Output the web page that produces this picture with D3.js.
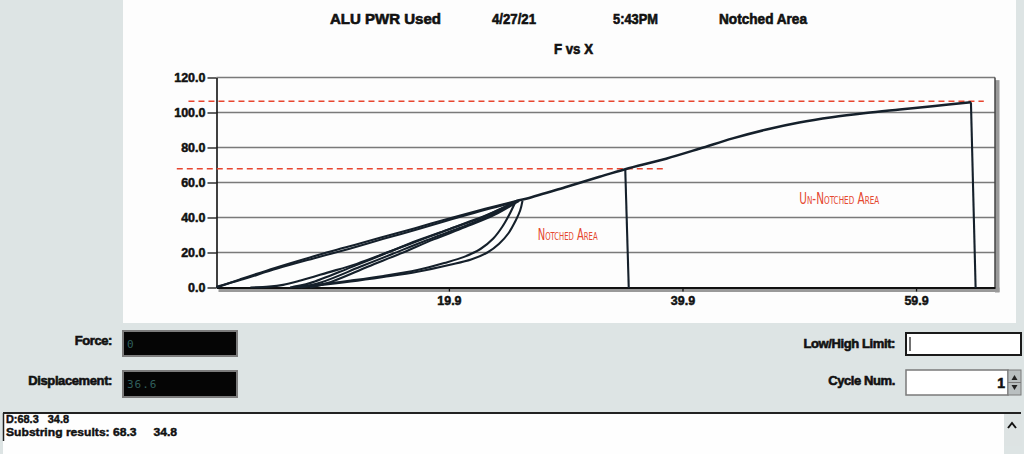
<!DOCTYPE html>
<html><head><meta charset="utf-8">
<script src="https://cdn.jsdelivr.net/npm/d3@7"></script>
<style>html,body{margin:0;padding:0;background:#fff;} svg{display:block}</style>
</head><body><svg id="c" width="1024" height="454"></svg>
<script>
// ---------------- DATA ----------------
const headerTexts = ["ALU PWR Used", "4/27/21", "5:43PM", "Notched Area"];
const chartTitle = "F vs X";
const yTicks = [0, 20, 40, 60, 80, 100, 120];
const xTicks = [19.9, 39.9, 59.9];
const xDomain = [0, 66.66];
const yDomain = [0, 120];

// first loading line (doubled)
const loadUpA = [[0,0],[2,4.6],[5,11.2],[8,17.2],[11,22.8],[14,28.4],[17,33.9],[20,39.6],[23,45],[25.8,49.7]];
const loadUpB = [[0,0.4],[2.1,4.4],[5.2,10.8],[8.3,16.6],[11.4,22.2],[14.3,27.8],[17.3,33.4],[20.2,39.1],[23.1,44.6],[25.9,49.4]];
// unloading curves
const unloadA = [[26.2,49.5],[26.0,44],[25.6,38],[25.0,31],[24.2,25],[23.2,20],[21.8,16],[20,13],[17.2,9],[14.3,6],[11.5,3.4],[8.6,1.2],[7,0.2]];
const unloadB = [[25.6,49],[25.1,42],[24.5,35],[23.7,28],[22.6,22],[21.2,17.5],[19.5,14],[17.2,10],[14.3,6.6],[11.5,4],[8.6,1.6],[6.5,0.3]];
// reloading bundle
const reloadA = [[6.3,0],[8,2.5],[11.5,11.5],[14.3,19],[17.2,26.8],[20,33.5],[22.8,40.2],[25.8,49.7]];
const reloadB = [[7.2,0],[9,3],[12.3,11.8],[15,19],[18,27],[20.8,34],[23.4,41],[25.8,49.7]];
const reloadC = [[8,0],[9.8,3.2],[13,12],[15.8,19.5],[18.6,27.5],[21.3,34.5],[23.8,41.5],[25.9,49.5]];
const reloadD = [[2.9,0],[4.5,0.5],[5.7,1.5],[7.2,4],[9.5,8.5],[12,13.5],[15,21],[18,28.5],[21,36],[23.5,42.5],[25.8,49.7]];
// final loading to failure
const finalLoad = [[25.8,49.7],[26.6,50.9],[30,57.6],[32.8,63.3],[35,67.6],[38.5,73.6],[41.4,79.4],[44.2,85.2],[47.1,90.3],[49.9,94.3],[52.7,97.3],[55.6,99.7],[58.5,101.7],[61.3,103.6],[64.6,105.8]];
const finalDrop = [[64.6,105.8],[65.0,-0.3]];
const notchDrop = [[35.0,67.6],[35.3,-0.3]];

// limit lines (value, x-extent)
const limitValues = [106.4, 67.9];
const limitExtents = [[-2.4, 65.7], [-3.4, 38.5]];
const annotations = [["Notched Area", 27.5, 27], ["Un-Notched Area", 49.9, 47.5]];

const fieldLabels = ["Force:", "Displacement:"];
const fieldValues = ["0", "36.6"];
const rightLabels = ["Low/High Limit:", "Cycle Num."];
const cycleNum = "1";
const logLines = ["D:68.3   34.8", "Substring results: 68.3     34.8"];

// ---------------- DRAW ----------------
const svg = d3.select("#c");
const BOLD = "'Liberation Sans', Arial, sans-serif";

svg.append("rect").attr("width",1024).attr("height",454).attr("fill","#dde4e4");
svg.append("rect").attr("x",123).attr("y",0).attr("width",893).attr("height",323).attr("fill","#fdfdfd");

// header
const hx = [[330,111],[492,44],[613,45],[719,88]];
headerTexts.forEach((t,i)=>{
  svg.append("text").attr("x",hx[i][0]).attr("y",24).attr("textLength",hx[i][1]).attr("lengthAdjust","spacingAndGlyphs")
    .attr("font-family",BOLD).attr("font-weight","bold").attr("font-size",14).attr("fill","#111")
    .attr("stroke","#111").attr("stroke-width",0.6).text(t);
});
svg.append("text").attr("x",554).attr("y",54).attr("textLength",39).attr("lengthAdjust","spacingAndGlyphs")
  .attr("font-family",BOLD).attr("font-weight","bold").attr("font-size",14).attr("fill","#111")
  .attr("stroke","#111").attr("stroke-width",0.6).text(chartTitle);

const x = d3.scaleLinear().domain(xDomain).range([216.5, 995]);
const y = d3.scaleLinear().domain(yDomain).range([287.5, 77.5]);

// shadow
svg.append("rect").attr("x",x(xDomain[1])).attr("y",y(118.5)).attr("width",4.5).attr("height",y(0)-y(118.5)+5).attr("fill","#9a9a9a");
svg.append("rect").attr("x",x(0)+2).attr("y",y(0)).attr("width",x(xDomain[1])-x(0)+2.5).attr("height",4.5).attr("fill","#9a9a9a");

// grid
svg.append("g").selectAll("line").data(yTicks.filter(d=>d>0)).join("line")
  .attr("x1",x(0)).attr("x2",x(xDomain[1])).attr("y1",d=>y(d)).attr("y2",d=>y(d))
  .attr("stroke","#7a7a7a").attr("stroke-width",1.3);
svg.append("line").attr("x1",x(xDomain[1])).attr("x2",x(xDomain[1])).attr("y1",y(120)).attr("y2",y(0))
  .attr("stroke","#444").attr("stroke-width",1.5);

// axes
const yAxis = svg.append("g").attr("transform",`translate(${x(0)},0)`)
  .call(d3.axisLeft(y).tickValues(yTicks).tickFormat(d=>d.toFixed(1)).tickSize(9).tickSizeOuter(0).tickPadding(2));
yAxis.select(".domain").attr("stroke","#111").attr("stroke-width",1.6);
yAxis.selectAll(".tick line").attr("stroke","#111").attr("stroke-width",1.3);
yAxis.selectAll("text").attr("font-family",BOLD).attr("font-weight","bold").attr("font-size",12.5).attr("fill","#111")
  .attr("stroke","#111").attr("stroke-width",0.5);

const xAxis = svg.append("g").attr("transform",`translate(0,${y(0)})`)
  .call(d3.axisBottom(x).tickValues(xTicks).tickFormat(d3.format(".1f")).tickSize(4).tickSizeOuter(0).tickPadding(5));
xAxis.select(".domain").attr("stroke","#111").attr("stroke-width",2.2);
xAxis.selectAll(".tick line").attr("stroke","#111").attr("stroke-width",1.3);
xAxis.selectAll("text").attr("font-family",BOLD).attr("font-weight","bold").attr("font-size",12.5).attr("fill","#111")
  .attr("stroke","#111").attr("stroke-width",0.5);

// limit lines
limitValues.forEach((v,i)=>{
  svg.append("line").attr("x1",x(limitExtents[i][0])).attr("x2",x(limitExtents[i][1]))
    .attr("y1",y(v)).attr("y2",y(v)).attr("stroke","#e8452f").attr("stroke-width",1.5).attr("stroke-dasharray","6,4");
});

// curves
const lineSmooth = d3.line().x(d=>x(d[0])).y(d=>y(d[1])).curve(d3.curveCatmullRom.alpha(0.5));
const lineStraight = d3.line().x(d=>x(d[0])).y(d=>y(d[1]));
const curveColor = "#15202b";
[loadUpA, loadUpB, unloadA, unloadB, reloadA, reloadB, reloadC, reloadD].forEach(s=>{
  svg.append("path").attr("d",lineSmooth(s)).attr("fill","none").attr("stroke",curveColor).attr("stroke-width",2.1).attr("stroke-linejoin","round");
});
svg.append("path").attr("d",lineSmooth(finalLoad)).attr("fill","none").attr("stroke",curveColor).attr("stroke-width",2.5);
[finalDrop, notchDrop].forEach(s=>{
  svg.append("path").attr("d",lineStraight(s)).attr("fill","none").attr("stroke",curveColor).attr("stroke-width",2.1);
});

// annotations
const annW = [60, 80];
annotations.forEach((a,i)=>{
  svg.append("text").attr("x",x(a[1])).attr("y",y(a[2])).attr("textLength",annW[i]).attr("lengthAdjust","spacingAndGlyphs")
    .attr("font-family","'DejaVu Sans Condensed','Liberation Sans Narrow',sans-serif").attr("font-size",16)
    .attr("font-variant","small-caps").attr("fill","#e5472f").text(a[0]);
});

// bottom panel fields
const fieldY = [[331,356],[371,397]];
fieldLabels.forEach((t,i)=>{
  svg.append("text").attr("x",112).attr("y",fieldY[i][0]+14).attr("text-anchor","end")
    .attr("font-family",BOLD).attr("font-weight","bold").attr("font-size",13).attr("fill","#111")
    .attr("stroke","#111").attr("stroke-width",0.6).attr("letter-spacing",-0.4).text(t);
  svg.append("rect").attr("x",123).attr("y",fieldY[i][0]).attr("width",114).attr("height",fieldY[i][1]-fieldY[i][0])
    .attr("fill","#050505").attr("stroke","#7c7c7c").attr("stroke-width",2);
  svg.append("text").attr("x",127).attr("y",fieldY[i][0]+17).attr("font-family","'DejaVu Sans Mono',monospace")
    .attr("font-size",11).attr("fill","#2f5f5c").attr("letter-spacing",1).text(fieldValues[i]);
});
const rY = [[333,355],[370,395]];
rightLabels.forEach((t,i)=>{
  svg.append("text").attr("x",895).attr("y",rY[i][0]+15).attr("text-anchor","end")
    .attr("font-family",BOLD).attr("font-weight","bold").attr("font-size",13).attr("fill","#111")
    .attr("stroke","#111").attr("stroke-width",0.6).attr("letter-spacing",-0.4).text(t);
});
svg.append("rect").attr("x",906).attr("y",333).attr("width",115).attr("height",22).attr("fill","#fff").attr("stroke","#1a1a1a").attr("stroke-width",2);
svg.append("line").attr("x1",910).attr("x2",910).attr("y1",337).attr("y2",351).attr("stroke","#111").attr("stroke-width",1.2);
svg.append("rect").attr("x",906).attr("y",370).attr("width",102).attr("height",25).attr("fill","#fff").attr("stroke","#7a7a7a").attr("stroke-width",1.5);
svg.append("text").attr("x",1005).attr("y",388).attr("text-anchor","end").attr("font-family",BOLD).attr("font-weight","bold")
  .attr("font-size",14).attr("fill","#111").attr("stroke","#111").attr("stroke-width",0.6).text(cycleNum);
svg.append("rect").attr("x",1008).attr("y",370).attr("width",13).attr("height",25).attr("fill","#b9bfc0").attr("stroke","#7a7a7a").attr("stroke-width",1);
svg.append("line").attr("x1",1008).attr("x2",1021).attr("y1",382.5).attr("y2",382.5).attr("stroke","#7a7a7a");
svg.append("path").attr("d","M1011.5,380 L1014.5,375 L1017.5,380 Z").attr("fill","#222");
svg.append("path").attr("d","M1011.5,385 L1014.5,390 L1017.5,385 Z").attr("fill","#222");

// log area
svg.append("rect").attr("x",3).attr("y",413).attr("width",1001).attr("height",41).attr("fill","#fefefe");
svg.append("rect").attr("x",1004).attr("y",414).attr("width",18).attr("height",32).attr("fill","#dde3e3");
svg.append("path").attr("d","M1008,428 L1012,423 L1016,428").attr("fill","none").attr("stroke","#111").attr("stroke-width",2);
svg.append("line").attr("x1",3).attr("x2",1021).attr("y1",413).attr("y2",413).attr("stroke","#222").attr("stroke-width",2);
svg.append("line").attr("x1",3.5).attr("x2",3.5).attr("y1",413).attr("y2",441).attr("stroke","#222").attr("stroke-width",1.5);
const logW = [63, 171];
logLines.forEach((t,i)=>{
  svg.append("text").attr("x",6).attr("y",423+i*13).attr("textLength",logW[i]).attr("lengthAdjust","spacingAndGlyphs")
    .attr("font-family",BOLD).attr("font-weight","bold").attr("font-size",11.5).attr("fill","#111")
    .attr("stroke","#111").attr("stroke-width",0.45).attr("xml:space","preserve").style("white-space","pre").text(t);
});
</script></body></html>
